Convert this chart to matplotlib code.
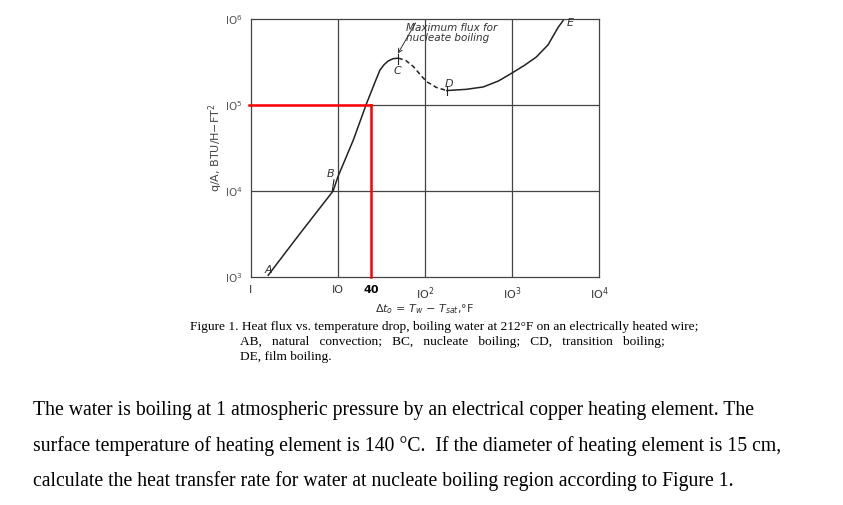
import matplotlib
matplotlib.use('Agg')
import matplotlib.pyplot as plt

# boiling curve
dt_solid1 = [1.58, 3.66, 8.8, 10, 15, 21.4, 27, 30.4, 34, 37.9, 43, 49.3]
q_solid1 = [1.05e3, 3.2e3, 1.0e4, 1.47e4, 3.9e4, 1.05e5, 1.9e5, 2.55e5, 2.95e5, 3.25e5, 3.45e5, 3.5e5]
dt_dash = [49.3, 60, 73.5, 90, 105, 135, 178]
q_dash = [3.5e5, 3.3e5, 2.8e5, 2.2e5, 1.86e5, 1.6e5, 1.47e5]
dt_solid2 = [178, 300, 468, 700, 1000, 1400, 1900, 2600, 3400, 4000]
q_solid2 = [1.47e5, 1.52e5, 1.62e5, 1.9e5, 2.35e5, 2.9e5, 3.6e5, 5.0e5, 8.0e5, 1.0e6]

x_ticks = [1, 10, 24, 100, 1000, 10000]
x_tick_labels = ['I', 'IO', '40', r'IO$^2$', r'IO$^3$', r'IO$^4$']
y_ticks = [1e3, 1e4, 1e5, 1e6]
y_tick_labels = [r'IO$^3$', r'IO$^4$', r'IO$^5$', r'IO$^6$']
red_x, red_q = 24, 1e5

caption = ["Figure 1. Heat flux vs. temperature drop, boiling water at 212°F on an electrically heated wire;",
           "AB,   natural   convection;   BC,   nucleate   boiling;   CD,   transition   boiling;",
           "DE, film boiling."]
paragraph = ["The water is boiling at 1 atmospheric pressure by an electrical copper heating element. The",
             "surface temperature of heating element is 140 °C.  If the diameter of heating element is 15 cm,",
             "calculate the heat transfer rate for water at nucleate boiling region according to Figure 1."]

fig = plt.figure(figsize=(8.43, 5.05), dpi=100)
ax = fig.add_axes([0.2977, 0.4515, 0.4128, 0.511])
ax.set_xscale('log')
ax.set_yscale('log')
ax.set_xlim(1, 1e4)
ax.set_ylim(1e3, 1e6)

for gx in [10, 100, 1000]:
    ax.axvline(gx, color='#444444', lw=0.9, zorder=1)
for gy in [1e4, 1e5]:
    ax.axhline(gy, color='#444444', lw=0.9, zorder=1)

ax.plot(dt_solid1, q_solid1, color='#222222', lw=1.1)
ax.plot(dt_dash, q_dash, color='#222222', lw=1.1, ls=(0, (3, 2)))
ax.plot(dt_solid2, q_solid2, color='#222222', lw=1.1)

ax.plot([red_x, red_x], [1e3, red_q], color='red', lw=1.8, clip_on=False, zorder=5)
ax.plot([0.95, red_x], [red_q, red_q], color='red', lw=1.8, clip_on=False, zorder=5)

# point labels
lab = dict(fontstyle='italic', fontsize=8, color='#333333')
ax.text(1.45, 1.1e3, 'A', **lab)
ax.text(7.5, 1.45e4, 'B', **lab)
ax.plot([8.6, 9.0], [1.0e4, 1.35e4], color='#222222', lw=0.8)
ax.text(44, 2.3e5, 'C', **lab)
ax.plot([49.3, 49.3], [3.0e5, 3.9e5], color='#222222', lw=0.8)
ax.text(170, 1.6e5, 'D', **lab)
ax.plot([178, 178], [1.3e5, 1.65e5], color='#222222', lw=0.8)
ax.text(4300, 8.3e5, 'E', **lab)
ax.annotate('Maximum flux for\nnucleate boiling', xy=(47, 3.7e5), xytext=(60, 5.6e5),
            fontsize=7.5, fontstyle='italic', color='#333333', linespacing=0.9,
            arrowprops=dict(arrowstyle='->', color='#333333', lw=0.7,
                            connectionstyle='angle,angleA=160,angleB=60'))

ax.set_xticks(x_ticks)
ax.set_xticklabels(x_tick_labels, fontsize=8, color='#333333')
ax.get_xticklabels()[2].set_color('black')
ax.get_xticklabels()[2].set_fontweight('bold')
ax.set_yticks(y_ticks)
ax.set_yticklabels(y_tick_labels, fontsize=7.5, color='#555555')
ax.minorticks_off()
ax.tick_params(length=0, pad=6)
for s in ax.spines.values():
    s.set_color('#444444')
    s.set_linewidth(0.9)
ax.set_xlabel(r'$\Delta t_o$ = $T_w$ $-$ $T_{sat}$,°F', fontsize=8, color='#333333', labelpad=0)
ax.set_ylabel(r'q/A, BTU/H$-$FT$^2$', fontsize=8, color='#444444', labelpad=0)

for i, line in enumerate(caption):
    fig.text(0.225 if i == 0 else 0.285, 1 - (327 + 15 * i) / 505, line,
             fontsize=9.6, family='Liberation Serif', va='center')
for i, line in enumerate(paragraph):
    fig.text(0.039, 1 - (411 + 35 * i) / 505, line, fontsize=14.2,
             family='Liberation Serif', va='center')

fig.savefig('out.png', dpi=100)
